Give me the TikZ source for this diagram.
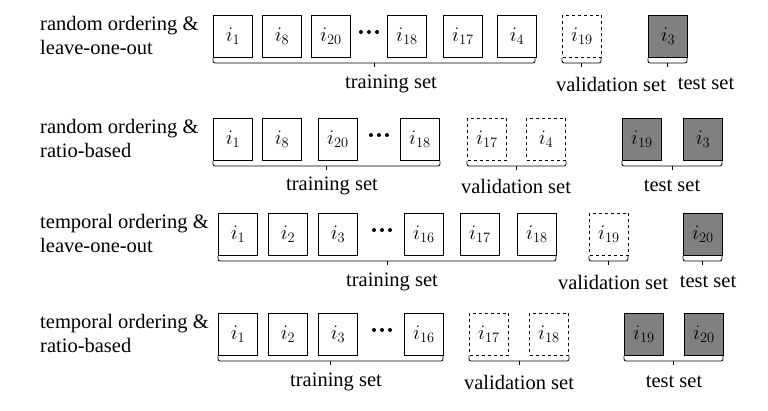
\documentclass[tikz,border=0pt]{standalone}
\usepackage{fontspec}
\setmainfont{Liberation Serif}
\begin{document}
\begin{tikzpicture}[x=1pt,y=-1pt,
  bx/.style={draw,line width=1pt,minimum width=39pt,minimum height=42pt,inner sep=0pt,anchor=north west,font=\fontsize{22}{22}\selectfont},
  vb/.style={bx,dashed},
  tb/.style={bx,fill=black!50},
  lab/.style={font=\fontsize{20.5}{24}\selectfont},
  lft/.style={lab,align=left,anchor=north west,inner sep=0pt},
  dts/.style={circle,fill,inner sep=0pt,minimum size=4pt}]
\useasboundingbox (0,0) rectangle (768,411);
\newcommand{\brc}[3]{% x1 x2 y
  \draw[line width=0.8pt,rounded corners=2pt] (#1,#3) -- (#1,#3+5) -- (#2,#3+5) -- (#2,#3);
  \draw[line width=0.8pt] ({(#1+#2)/2},#3+5) -- ({(#1+#2)/2},#3+9);}
\newcommand{\mydots}[3]{% x y name
  \node[dts] (#3a) at (#1-8,#2) {}; \node[dts] (#3b) at (#1,#2) {}; \node[dts] (#3c) at (#1+8,#2) {};}
% row 1
\node[lft] (l1) at (40,16) {random ordering \&\\leave-one-out};
\foreach \x/\s/\n in {213/1/a,262/8/b,311/20/c,387/18/d,443/17/e,497/4/f}
  \node[bx] (r1\n) at (\x,15) {$i_{\s}$};
\mydots{369}{32}{d1}
\node[vb] (r1v) at (562,15) {$i_{19}$};
\node[tb] (r1t) at (648,15) {$i_{3}$};
\brc{213}{535}{58}
\brc{562}{601}{58}
\brc{648}{687}{58}
\node[lab] (t1) at (391,84) {training set};
\node[lab] (v1) at (611,84) {validation set};
\node[lab] (s1) at (706,84) {test set};
% row 2
\node[lft] (l2) at (40,119) {random ordering \&\\ratio-based};
\foreach \x/\s/\n in {213/1/a,262/8/b,318/20/c,400/18/d}
  \node[bx] (r2\n) at (\x,118) {$i_{\s}$};
\mydots{379}{135}{d2}
\node[vb] (r2v) at (467,118) {$i_{17}$};
\node[vb] (r2w) at (526,118) {$i_{4}$};
\node[tb] (r2t) at (622,118) {$i_{19}$};
\node[tb] (r2u) at (683,118) {$i_{3}$};
\brc{213}{440}{161}
\brc{467}{566}{161}
\brc{622}{722}{161}
\node[lab] (t2) at (332,186) {training set};
\node[lab] (v2) at (516,186) {validation set};
\node[lab] (s2) at (672,186) {test set};
% row 3
\node[lft] (l3) at (40,214) {temporal ordering \&\\leave-one-out};
\foreach \x/\s/\n in {218/1/a,268/2/b,318/3/c,404/16/d,460/17/e,517/18/f}
  \node[bx] (r3\n) at (\x,213) {$i_{\s}$};
\mydots{382}{230}{d3}
\node[vb] (r3v) at (589,213) {$i_{19}$};
\node[tb] (r3t) at (683,213) {$i_{20}$};
\brc{218}{556}{256}
\brc{589}{628}{256}
\brc{683}{722}{256}
\node[lab] (t3) at (392,282) {training set};
\node[lab] (v3) at (613,282) {validation set};
\node[lab] (s3) at (708,282) {test set};
% row 4
\node[lft] (l4) at (40,314) {temporal ordering \&\\ratio-based};
\foreach \x/\s/\n in {218/1/a,268/2/b,318/3/c,404/16/d}
  \node[bx] (r4\n) at (\x,313) {$i_{\s}$};
\mydots{382}{330}{d4}
\node[vb] (r4v) at (469,313) {$i_{17}$};
\node[vb] (r4w) at (529,313) {$i_{18}$};
\node[tb] (r4t) at (624,313) {$i_{19}$};
\node[tb] (r4u) at (684,313) {$i_{20}$};
\brc{218}{443}{356}
\brc{469}{569}{356}
\brc{624}{723}{356}
\node[lab] (t4) at (336,382) {training set};
\node[lab] (v4) at (519,382) {validation set};
\node[lab] (s4) at (674,382) {test set};
\end{tikzpicture}
\end{document}
